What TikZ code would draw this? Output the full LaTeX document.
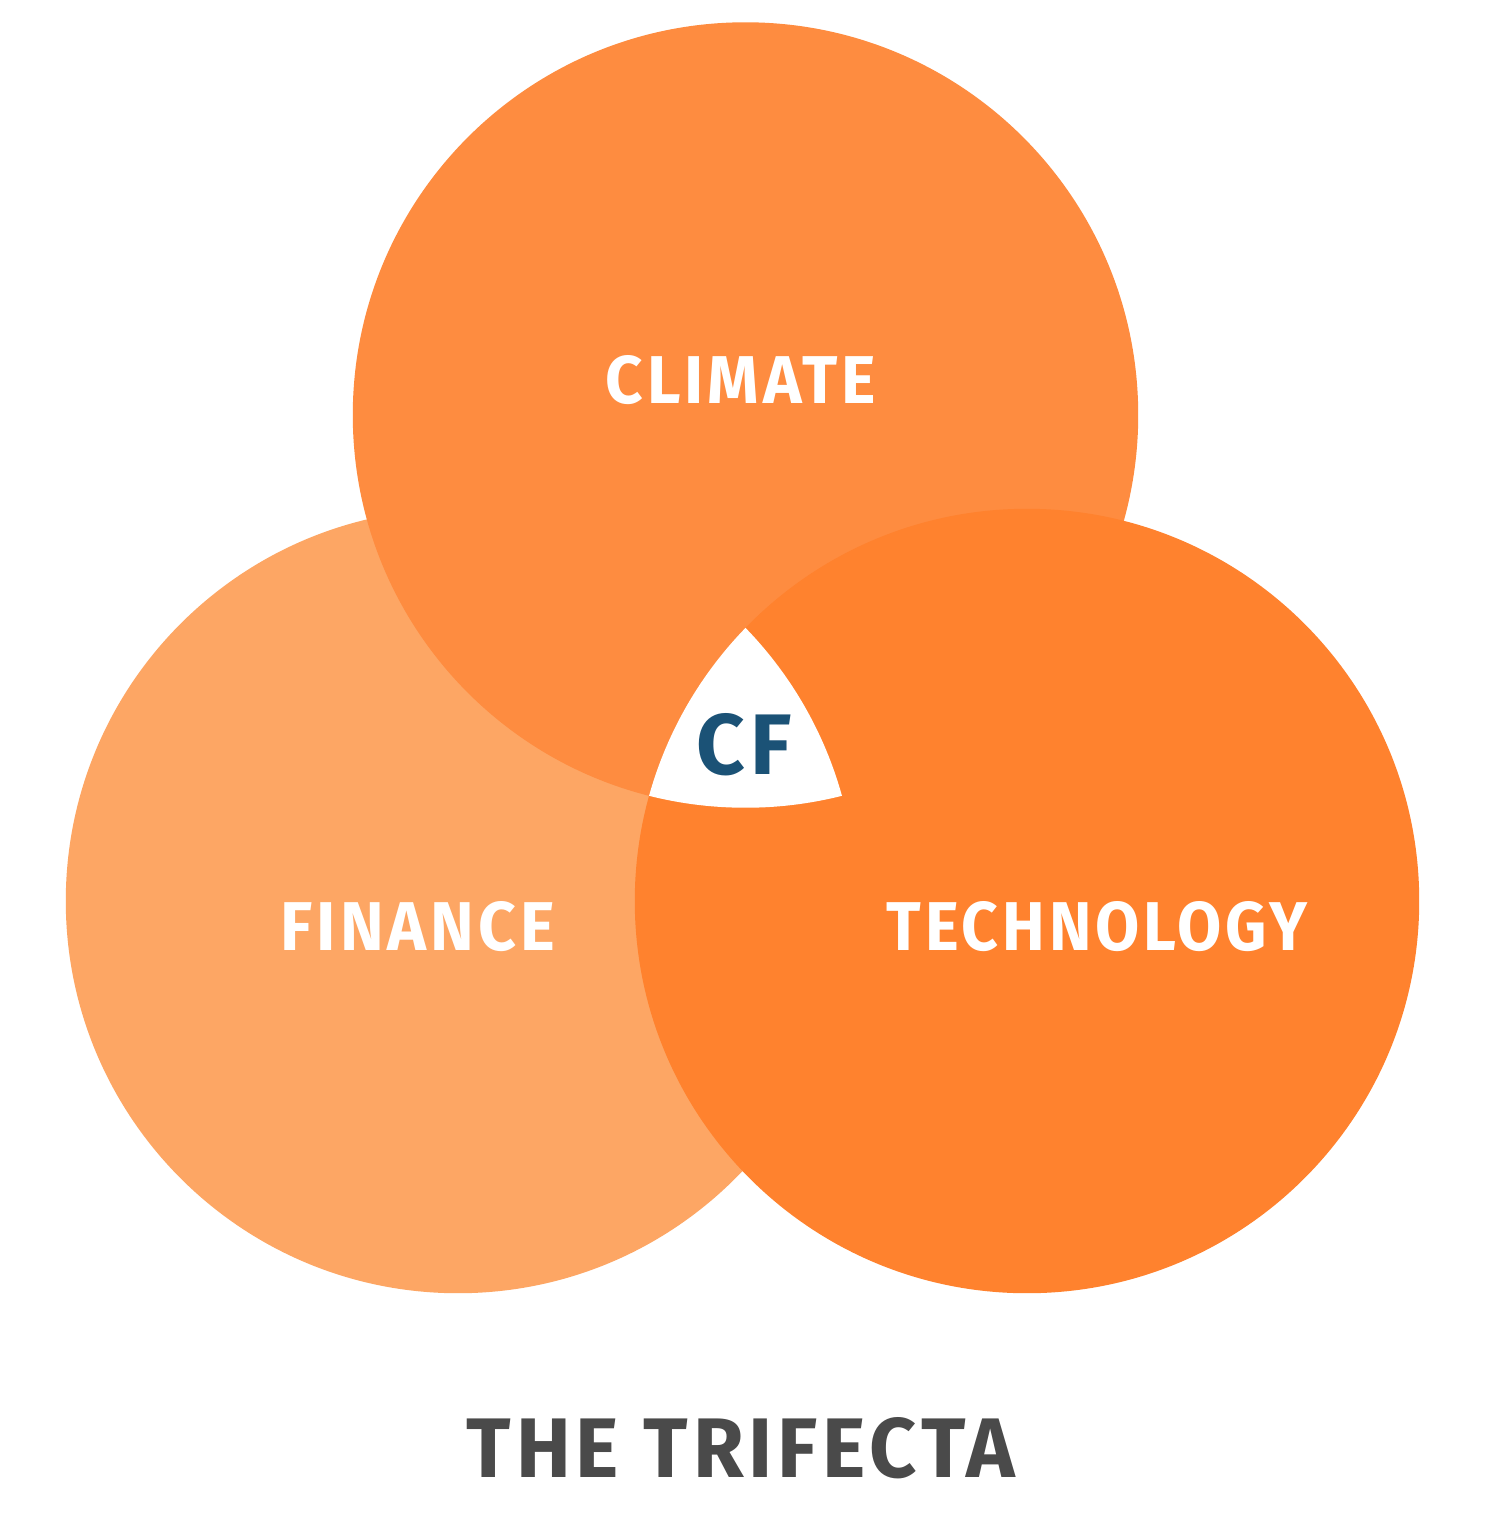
\documentclass[tikz,border=0pt]{standalone}
\usepackage{fontspec}
\setmainfont{Fira Sans}
\newfontfamily\lblfont[LetterSpace=6]{Fira Sans}
\usepackage{graphicx}
\definecolor{finc}{HTML}{FDA664}
\definecolor{climc}{HTML}{FE8C40}
\definecolor{techc}{HTML}{FF822E}
\definecolor{cfblue}{HTML}{1B5276}
\definecolor{titlegrey}{HTML}{4A4A4A}
\newcommand{\fitlabel}[3]{\resizebox{#1}{#2}{\lblfont\bfseries #3}}
\begin{document}
\begin{tikzpicture}[x=0.01cm,y=-0.01cm,
  lbl/.style={inner sep=0pt,outer sep=0pt,anchor=center,text=white}]
\useasboundingbox[fill=white] (0,0) rectangle (1492,1536);
% circles
\fill[finc]  (458,901) circle[radius=3.92cm];
\fill[climc] (745.5,415) circle[radius=3.925cm];
\fill[techc] (1027,901) circle[radius=3.92cm];
% white centre
\begin{scope}
  \clip (1027,901) circle[radius=3.92cm];
  \clip (745.5,415) circle[radius=3.925cm];
  \fill[white] (464,901) circle[radius=3.92cm];
\end{scope}
% labels
\node[lbl] (climate) at (741,380) {\fitlabel{2.70cm}{0.48cm}{CLIMATE}};
\node[lbl] (finance) at (418,927) {\fitlabel{2.74cm}{0.49cm}{FINANCE}};
\node[lbl] (tech) at (1097,927) {\fitlabel{4.20cm}{0.49cm}{TECHNOLOGY}};
\node[lbl,text=cfblue] (cf) at (744.3,744.5) {\fitlabel{0.95cm}{0.61cm}{CF}};
\node[lbl,text=titlegrey] (title) at (741,1448) {\fitlabel{5.48cm}{0.60cm}{THE TRIFECTA}};
\end{tikzpicture}
\end{document}
